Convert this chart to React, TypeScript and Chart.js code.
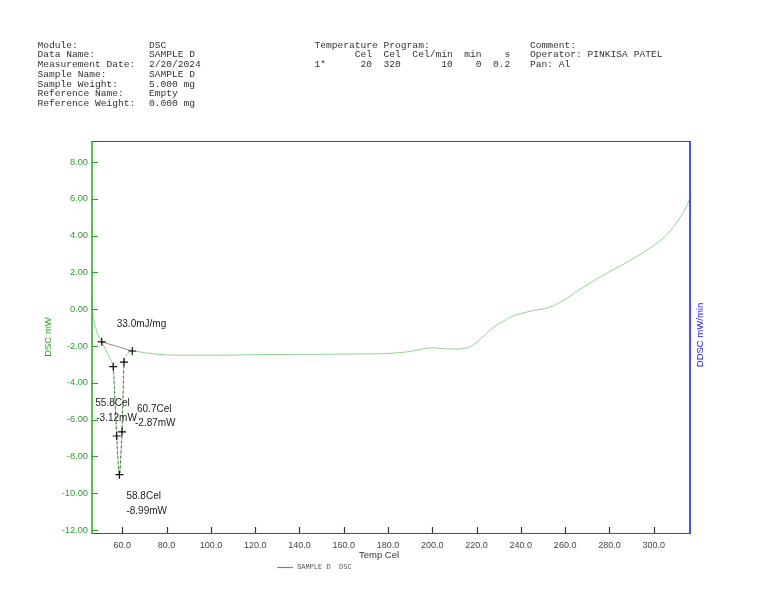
import { useEffect, useRef } from "react";
import { Chart, registerables } from "chart.js";

Chart.register(...registerables);

// ---- data ----
const temps = [
  46.3, 46.7, 47.3, 47.8, 49.0, 50.7, 52.0, 53.5, 54.8, 55.5, 55.9, 56.4, 57.0, 57.45, 58.0, 58.4, 58.7,
  59.0, 59.4, 59.85, 60.3, 60.75, 61.5, 62.5, 64.5, 67, 70, 75, 80, 90, 100, 110, 120, 130, 140, 150,
  160, 170, 177, 184, 190, 194, 197.5, 201, 204.5, 209, 213, 216, 218, 221, 224.5, 227.5, 230.5, 233.5,
  236.5, 239.5, 242.5, 246, 250, 254, 257.5, 261, 265, 269, 273, 278, 283, 288, 293.5, 298, 301.5,
  305, 309, 312, 314.5, 316.4,
];
const dsc = [
  0.5, -0.2, -0.65, -0.94, -1.4, -1.77, -2.1, -2.45, -2.75, -2.95, -3.12, -4.2, -5.8, -6.89, -8.1, -8.75,
  -8.99, -8.7, -7.8, -6.66, -4.8, -2.87, -2.55, -2.4, -2.27, -2.3, -2.36, -2.44, -2.48, -2.5, -2.5, -2.49,
  -2.47, -2.46, -2.45, -2.45, -2.44, -2.43, -2.42, -2.37, -2.3, -2.2, -2.12, -2.1, -2.14, -2.17, -2.16,
  -2.08, -1.98, -1.7, -1.31, -1.0, -0.77, -0.55, -0.37, -0.25, -0.16, -0.06, 0.02, 0.15, 0.36, 0.6,
  0.95, 1.25, 1.55, 1.9, 2.23, 2.55, 2.95, 3.3, 3.58, 3.95, 4.48, 5.0, 5.5, 6.03,
];
// analysis marks ("+") and the peak baseline
const markerT = [50.7, 64.5, 55.9, 60.75, 57.45, 59.85, 58.7];
const markerV = [-1.77, -2.27, -3.12, -2.87, -6.89, -6.66, -8.99];
const baselineT = [50.7, 64.5];
const baselineV = [-1.77, -2.27];
const peakFromT = 55.9;
const peakToT = 60.75;

const xMin = 46.3;
const xMax = 316.4;
const xStep = 20;
const yMin = -12.16;
const yMax = 9.14;
const yStep = 2;

const annotationTexts = ["33.0mJ/mg", "55.8Cel", "-3.12mW", "60.7Cel", "-2.87mW", "58.8Cel", "-8.99mW"];
const annotationMarker = [0, 2, 2, 3, 3, 6, 6];

const headerLeftLabels = [
  "Module:",
  "Data Name:",
  "Measurement Date:",
  "Sample Name:",
  "Sample Weight:",
  "Reference Name:",
  "Reference Weight:",
];
const headerLeftValues = ["DSC", "SAMPLE D", "2/20/2024", "SAMPLE D", "5.000 mg", "Empty", "0.000 mg"];
const programLines = [
  "Temperature Program:",
  "       Cel  Cel  Cel/min  min    s",
  "1*      20  320       10    0  0.2",
];
const commentLines = ["Comment:", "Operator: PINKISA PATEL", "Pan: Al"];

const seriesName = "SAMPLE D  DSC";
const xTitle = "Temp Cel";
const yTitle = "DSC mW";
const y2Title = "DDSC mW/min";

// style offsets for annotation labels (pixels from their marker)
const annotationOffsets: [number, number][] = [
  [15, -18],
  [-18, 37],
  [-17, 52],
  [13, 47],
  [11, 61],
  [7, 22],
  [7, 37],
];

const decor = {
  id: "decor",
  beforeDraw(chart: any) {
    const { ctx, width, height } = chart;
    ctx.save();
    ctx.fillStyle = "#ffffff";
    ctx.fillRect(0, 0, width, height);
    ctx.restore();
  },
  afterDraw(chart: any) {
    const { ctx, chartArea } = chart;
    const { left, right, top, bottom } = chartArea;
    const xs = chart.scales.x;
    const ys = chart.scales.y;
    ctx.save();

    // header text
    ctx.fillStyle = "#333";
    ctx.font = "9.6px 'Liberation Mono', monospace";
    ctx.textBaseline = "middle";
    ctx.textAlign = "left";
    const lh = 9.75;
    headerLeftLabels.forEach((l, i) => {
      ctx.fillText(l, 37.5, 45 + i * lh);
      ctx.fillText(headerLeftValues[i], 149, 45 + i * lh);
    });
    programLines.forEach((l, i) => ctx.fillText(l, 314.5, 45 + i * lh));
    commentLines.forEach((l, i) => ctx.fillText(l, 530, 45 + i * lh));

    // frame
    ctx.lineWidth = 1.2;
    ctx.strokeStyle = "#555";
    ctx.beginPath();
    ctx.moveTo(left, top + 0.5);
    ctx.lineTo(right, top + 0.5);
    ctx.moveTo(left, bottom + 0.5);
    ctx.lineTo(right, bottom + 0.5);
    ctx.stroke();
    ctx.lineWidth = 1.5;
    ctx.strokeStyle = "#22a822";
    ctx.beginPath();
    ctx.moveTo(left, top);
    ctx.lineTo(left, bottom + 1);
    ctx.stroke();
    ctx.strokeStyle = "#1010ff";
    ctx.beginPath();
    ctx.moveTo(right, top);
    ctx.lineTo(right, bottom + 1);
    ctx.stroke();

    // inward tick marks
    ctx.lineWidth = 1.2;
    ctx.strokeStyle = "#333";
    ctx.beginPath();
    xs.ticks.forEach((t: any) => {
      const px = Math.round(xs.getPixelForValue(t.value)) + 0.5;
      ctx.moveTo(px, bottom);
      ctx.lineTo(px, bottom - 6);
    });
    ctx.stroke();
    ctx.strokeStyle = "#22a822";
    ctx.beginPath();
    ys.ticks.forEach((t: any) => {
      const py = Math.round(ys.getPixelForValue(t.value)) + 0.5;
      ctx.moveTo(left, py);
      ctx.lineTo(left + 6, py);
    });
    ctx.stroke();

    // axis titles
    ctx.font = "9.5px 'Liberation Sans', sans-serif";
    ctx.textAlign = "center";
    ctx.fillStyle = "#333";
    ctx.fillText(xTitle, 379, 555);
    ctx.save();
    ctx.translate(48, (top + bottom) / 2);
    ctx.rotate(-Math.PI / 2);
    ctx.fillStyle = "#2e9e2e";
    ctx.fillText(yTitle, 0, 0);
    ctx.restore();
    ctx.save();
    ctx.translate(right + 10, (top + bottom) / 2 - 2);
    ctx.rotate(-Math.PI / 2);
    ctx.fillStyle = "#2020ff";
    ctx.fillText(y2Title, 0, 0);
    ctx.restore();

    // annotation labels
    ctx.font = "10px 'Liberation Sans', sans-serif";
    ctx.textAlign = "left";
    ctx.fillStyle = "#222";
    annotationTexts.forEach((txt, i) => {
      const m = annotationMarker[i];
      const px = xs.getPixelForValue(markerT[m]);
      const py = ys.getPixelForValue(markerV[m]);
      const [dx, dy] = annotationOffsets[i];
      ctx.fillText(txt, px + dx, py + dy);
    });

    // legend
    ctx.strokeStyle = "#44aa44";
    ctx.lineWidth = 1.2;
    ctx.beginPath();
    ctx.moveTo(277, 567.5);
    ctx.lineTo(293, 567.5);
    ctx.stroke();
    ctx.font = "7px 'Liberation Mono', monospace";
    ctx.fillStyle = "#555";
    ctx.fillText(seriesName, 297, 567);

    ctx.restore();
  },
};

export default function App() {
  const ref = useRef<HTMLCanvasElement>(null);
  useEffect(() => {
    const canvas = ref.current!;
    const curve = temps.map((t, i) => ({ x: t, y: dsc[i] }));
    const peak = curve.filter((p) => p.x >= peakFromT && p.x <= peakToT);
    const chart = new Chart(canvas, {
      type: "line",
      data: {
        datasets: [
          {
            label: seriesName,
            data: curve,
            borderColor: "#92d492",
            borderWidth: 1,
            pointRadius: 0,
            cubicInterpolationMode: "monotone",
            order: 4,
          },
          {
            data: peak,
            borderColor: "rgba(40,60,40,0.75)",
            borderWidth: 1,
            borderDash: [2, 3],
            pointRadius: 0,
            cubicInterpolationMode: "monotone",
            order: 3,
          },
          {
            data: baselineT.map((t, i) => ({ x: t, y: baselineV[i] })),
            borderColor: "#8c8c8c",
            borderWidth: 1,
            pointRadius: 0,
            tension: 0,
            order: 2,
          },
          {
            data: markerT.map((t, i) => ({ x: t, y: markerV[i] })),
            showLine: false,
            pointStyle: "cross",
            pointRadius: 4,
            borderColor: "#111",
            backgroundColor: "#111",
            borderWidth: 1.2,
            order: 1,
          },
        ],
      } as any,
      options: {
        responsive: false,
        animation: false,
        events: [],
        layout: { padding: { top: 141, left: 0, right: 0, bottom: 0 } },
        plugins: { legend: { display: false }, tooltip: { enabled: false } },
        scales: {
          x: {
            type: "linear",
            min: xMin,
            max: xMax,
            ticks: {
              stepSize: xStep,
              includeBounds: false,
              autoSkip: false,
              maxRotation: 0,
              padding: 7,
              color: "#444",
              font: { family: "'Liberation Sans', sans-serif", size: 9 },
              callback: (v: any) => Number(v).toFixed(1),
            },
            grid: { display: false, drawTicks: false },
            border: { display: false },
            afterFit: (s: any) => {
              s.height = 61;
            },
          },
          y: {
            position: "left",
            min: yMin,
            max: yMax,
            ticks: {
              stepSize: yStep,
              includeBounds: false,
              padding: 4,
              color: "#2e9e2e",
              font: { family: "'Liberation Sans', sans-serif", size: 9.3 },
              callback: (v: any) => Number(v).toFixed(2),
            },
            grid: { display: false, drawTicks: false },
            border: { display: false },
            afterFit: (s: any) => {
              s.width = 92;
            },
          },
          y2: {
            position: "right",
            min: 0,
            max: 1,
            ticks: { display: false },
            grid: { display: false, drawTicks: false },
            border: { display: false },
            afterFit: (s: any) => {
              s.width = 78;
            },
          },
        },
      } as any,
      plugins: [decor],
    });
    return () => chart.destroy();
  }, []);
  return (
    <div style={{ position: "absolute", left: 0, top: 0, width: 768, height: 594, background: "#fff" }}>
      <canvas ref={ref} width={768} height={594} style={{ display: "block", width: 768, height: 594 }} />
    </div>
  );
}
